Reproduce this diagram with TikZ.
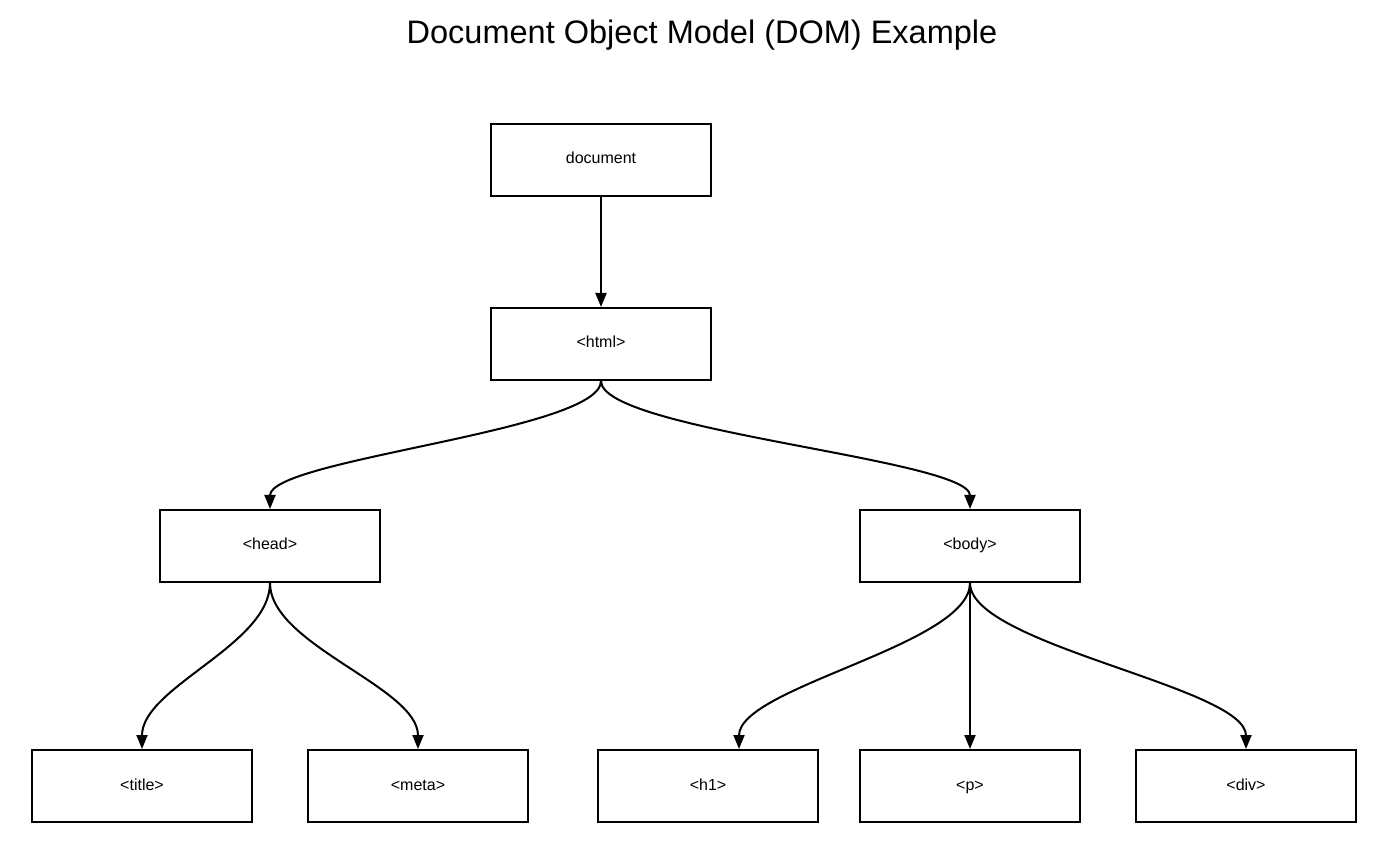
\documentclass[tikz,border=0pt]{standalone}
\usepackage{fontspec}
\setmainfont{Liberation Sans}
\usetikzlibrary{arrows.meta}
\begin{document}
\begin{tikzpicture}[x=1pt,y=1pt,
  box/.style={draw,line width=2pt,minimum width=220pt,minimum height=72pt,inner sep=0pt,text height=11.5pt,text depth=3.5pt,font=\fontsize{16}{19}\selectfont},
  conn/.style={line width=2pt,-{Triangle[length=14pt,width=11pt]}}]
\useasboundingbox (0,0) rectangle (1400,844);
\node[font=\fontsize{32.5}{38}\selectfont] (ttl) at (702,809) {Document Object Model (DOM) Example};
\node[box] (doc) at (601,684) {document};
\node[box] (html) at (601,500) {<html>};
\node[box] (head) at (270,298) {<head>};
\node[box] (body) at (970,298) {<body>};
\node[box] (title) at (142,58) {<title>};
\node[box] (meta) at (418,58) {<meta>};
\node[box] (h1) at (708,58) {<h1>};
\node[box] (p) at (970,58) {<p>};
\node[box] (div) at (1246,58) {<div>};
\draw[conn] (doc) -- (html);
\draw[conn] (html.south) .. controls +(0,-50) and +(0,50) .. (head.north);
\draw[conn] (html.south) .. controls +(0,-50) and +(0,50) .. (body.north);
\draw[conn] (head.south) .. controls +(0,-62) and +(0,62) .. (title.north);
\draw[conn] (head.south) .. controls +(0,-62) and +(0,62) .. (meta.north);
\draw[conn] (body.south) .. controls +(0,-62) and +(0,62) .. ([xshift=31pt]h1.north);
\draw[conn] (body) -- (p);
\draw[conn] (body.south) .. controls +(0,-62) and +(0,62) .. (div.north);
\end{tikzpicture}
\end{document}
